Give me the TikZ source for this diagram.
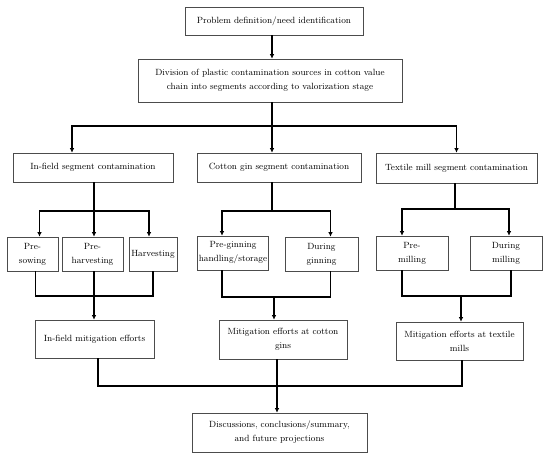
\documentclass[tikz,border=0pt]{standalone}
\usepackage{tikz}
\usetikzlibrary{arrows.meta}

\begin{document}
\begin{tikzpicture}[x=1pt, y=-1pt,
    box/.style={draw=black!70, line width=0.6pt, align=center, inner sep=1pt,
        font=\fontsize{9}{14}\selectfont},
    link/.style={line width=1.1pt},
    arr/.style={link, -{Latex[length=4.5pt, width=4.5pt]}}]
    \useasboundingbox (0,0) rectangle (550,459);
    % top of the chart
    \node[box, minimum width=178pt, minimum height=28pt] (problem) at (274,21) {Problem definition/need identification};
    \node[box, minimum width=264pt, minimum height=43pt] (division) at (270,80.5) {Division of plastic contamination sources in cotton value\\chain into segments according to valorization stage};
    % the three segments
    \node[box, minimum width=160pt, minimum height=29pt] (field) at (93,167.5) {In-field segment contamination};
    \node[box, minimum width=164pt, minimum height=29pt] (gin) at (279,167.5) {Cotton gin segment contamination};
    \node[box, minimum width=161pt, minimum height=30pt] (mill) at (456.5,168) {Textile mill segment contamination};
    % stages of each segment
    \node[box, minimum width=51pt, minimum height=34pt] (presowing) at (32.5,254) {Pre-\\sowing};
    \node[box, minimum width=61pt, minimum height=34pt] (preharvesting) at (92.5,254) {Pre-\\harvesting};
    \node[box, minimum width=48pt, minimum height=34pt] (harvesting) at (153,254) {Harvesting};
    \node[box, minimum width=70pt, minimum height=34pt] (preginning) at (233,253) {Pre-ginning\\handling/storage};
    \node[box, minimum width=73pt, minimum height=34pt] (duringginning) at (321.5,254) {During\\ginning};
    \node[box, minimum width=72pt, minimum height=34pt] (premilling) at (412,253) {Pre-\\milling};
    \node[box, minimum width=72pt, minimum height=34pt] (duringmilling) at (506,253) {During\\milling};
    % mitigation and the end
    \node[box, minimum width=119pt, minimum height=38pt] (fieldmit) at (94.5,339) {In-field mitigation efforts};
    \node[box, minimum width=128pt, minimum height=39pt] (ginmit) at (283,339.5) {Mitigation efforts at cotton\\gins};
    \node[box, minimum width=127pt, minimum height=38pt] (millmit) at (459.5,341) {Mitigation efforts at textile\\mills};
    \node[box, minimum width=175pt, minimum height=39pt] (final) at (279.5,432.5) {Discussions, conclusions/summary,\\and future projections};

    % -| goes across first and then down, |- the other way round
    \coordinate (split) at (272,126);
    \draw[arr] (problem.south -| split) -- (division.north -| split);
    \draw[arr] (division.south -| split) -- (gin.north -| split);
    \draw[arr] (split) -| ([xshift=-21pt]field.north);
    \draw[arr] (split) -| (mill.north);

    \coordinate (fieldsplit) at (94,211);
    \coordinate (fieldjoin) at (94,296);
    \draw[arr] (field.south -| fieldsplit) -- (preharvesting.north -| fieldsplit);
    \draw[arr] (fieldsplit) -| ([xshift=7pt]presowing.north);
    \draw[arr] (fieldsplit) -| ([xshift=-4pt]harvesting.north);
    \draw[link] ([xshift=3pt]presowing.south) |- (fieldjoin) -| (harvesting.south);
    \draw[arr] (preharvesting.south -| fieldjoin) -- (fieldmit.north -| fieldjoin);

    \coordinate (ginsplit) at (272,211);
    \coordinate (ginjoin) at (274,297);
    \draw[link] (gin.south -| ginsplit) -- (ginsplit);
    \draw[arr] (ginsplit) -| ([xshift=-11pt]preginning.north);
    \draw[arr] (ginsplit) -| ([xshift=9pt]duringginning.north);
    \draw[link] ([xshift=-11pt]preginning.south) |- (ginjoin) -| ([xshift=9pt]duringginning.south);
    \draw[arr] (ginjoin) -- (ginmit.north -| ginjoin);

    \coordinate (millsplit) at (455,209);
    \coordinate (milljoin) at (461,296);
    \draw[link] (mill.south -| millsplit) -- (millsplit);
    \draw[arr] (millsplit) -| ([xshift=-10pt]premilling.north);
    \draw[arr] (millsplit) -| ([xshift=3pt]duringmilling.north);
    \draw[link] ([xshift=-10pt]premilling.south) |- (milljoin) -| ([xshift=5pt]duringmilling.south);
    \draw[arr] (milljoin) -- (millmit.north -| milljoin);

    \coordinate (join) at (277,386);
    \draw[link] ([xshift=3.5pt]fieldmit.south) |- (join) -| ([xshift=2.5pt]millmit.south);
    \draw[arr] (ginmit.south -| join) -- (final.north -| join);
\end{tikzpicture}
\end{document}
